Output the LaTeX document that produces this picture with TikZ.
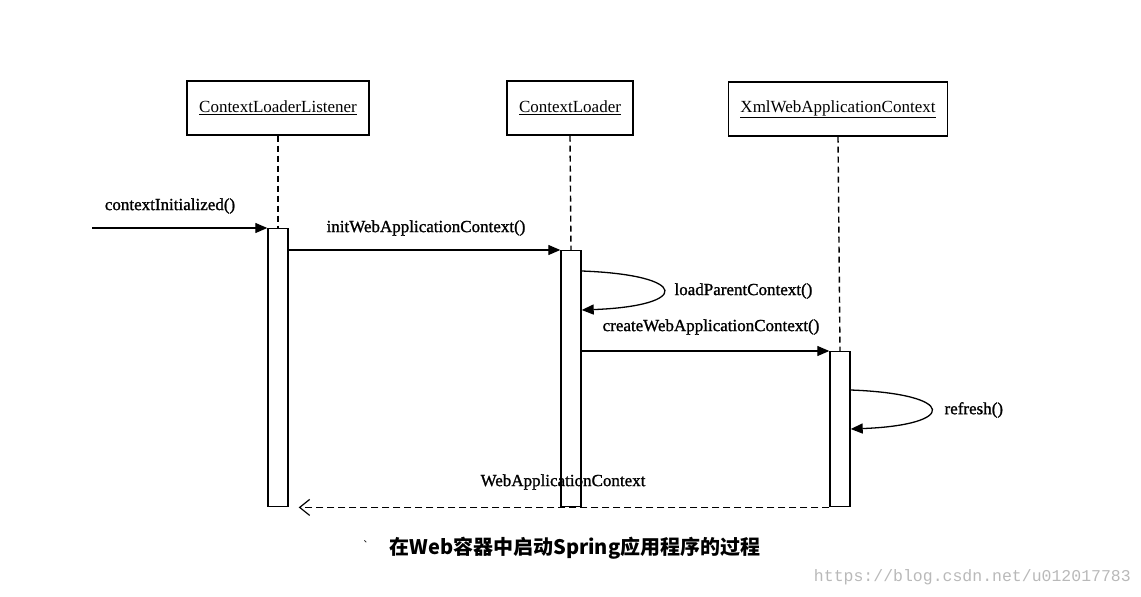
\documentclass[tikz,border=0pt]{standalone}
\usepackage{fontspec}
\setmainfont{Liberation Serif}
\newfontfamily\msgfont[FakeBold=1.2]{Liberation Serif}
\newfontfamily\cjk{Noto Sans CJK SC}
\newfontfamily\wmfont{Liberation Mono}
\usetikzlibrary{arrows.meta,positioning,calc}

\tikzset{
	obj/.style={draw, line width=1.4pt, minimum height=54pt, inner xsep=12pt, font=\fontsize{17}{20}\selectfont},
	bar/.style={draw, line width=1.4pt, fill=white, minimum width=20pt, anchor=north},
	life/.style={line width=1.4pt, dash pattern=on 6pt off 4pt},
	msg/.style={line width=1.3pt, -{Triangle[length=12pt,width=10pt]}},
	ret/.style={line width=1.2pt, dash pattern=on 7pt off 4pt, -{Straight Barb[length=10pt,width=16pt]}},
	lbl/.style={font=\msgfont\fontsize{17}{20}\selectfont}
}

\begin{document}
\begin{tikzpicture}[x=1pt,y=-1pt]
	\useasboundingbox (0,0) rectangle (1141,597);

	% objects
	\node[obj] (cll) at (278,108) {\underline{ContextLoaderListener}};
	\node[obj] (cl) at (570,108) {\underline{ContextLoader}};
	\node[obj] (xwac) at (838,109) {\underline{XmlWebApplicationContext}};

	% activation bars
	\node[bar, minimum height=278pt] (b1) at (278,228) {};
	\node[bar, minimum height=256pt] (b2) at (571,250) {};
	\node[bar, minimum height=155pt] (b3) at (840,351) {};

	% lifelines
	\draw[life] (cll.south) -- (b1.north);
	\draw[life] (cl.south) -- (b2.north);
	\draw[life] (xwac.south) -- (b3.north);

	% messages
	\coordinate (src) at (92,228);
	\draw[msg] (src) -- (b1.north west);
	\node[lbl] (m1) at (170,206) {contextInitialized()};

	\draw[msg] (b1.east |- b2.north) -- (b2.north west);
	\node[lbl] (m2) at (426,228) {initWebApplicationContext()};

	\draw[msg] ($(b2.north east)+(0,21)$) .. controls +(109,4) and +(109,-4) .. ($(b2.north east)+(0,60)$);
	\node[lbl, anchor=west] (m3) at (671,291) {loadParentContext()};

	\draw[msg] (b2.east |- b3.north) -- (b3.north west);
	\node[lbl] (m4) at (711,327) {createWebApplicationContext()};

	\draw[msg] ($(b3.north east)+(0,39)$) .. controls +(107,4) and +(107,-4) .. ($(b3.north east)+(0,78)$);
	\node[lbl, anchor=west] (m5) at (941,410) {refresh()};

	% return
	\draw[ret, shorten >=10pt] (b3.south west) -- (b1.south east);
	\node[lbl] (m6) at (563,482) {WebApplicationContext};

	% caption
	\node[font=\cjk\fontsize{9}{10}\selectfont] (tick) at (368,542) {、};
	\node[font=\cjk\bfseries\fontsize{20}{24}\selectfont, anchor=west] (cap) at (386,548) {在Web容器中启动Spring应用程序的过程};
	\node[font=\wmfont\fontsize{16.5}{18}\selectfont, text=gray!55, anchor=east, inner sep=0pt] (wm) at (1131,577) {https://blog.csdn.net/u012017783};
\end{tikzpicture}
\end{document}
